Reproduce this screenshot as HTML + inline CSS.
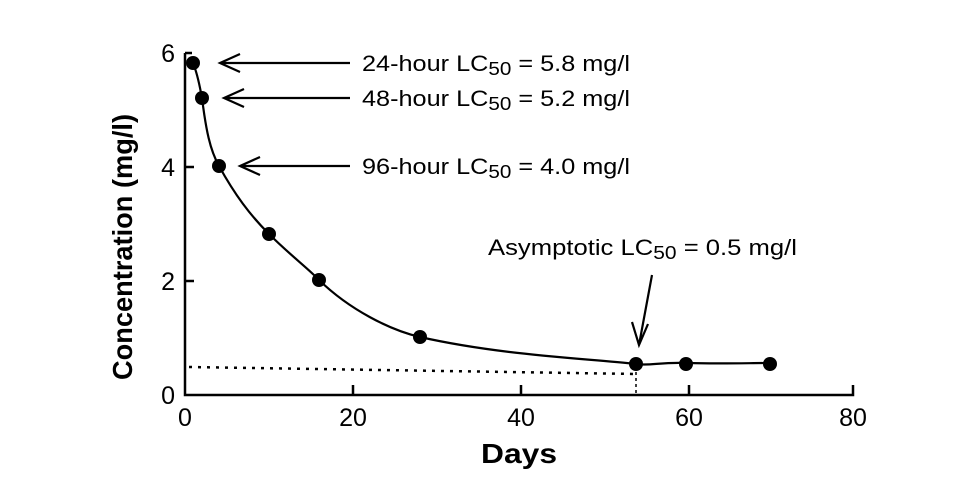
<!DOCTYPE html>
<html><head><style>body{margin:0;background:#fff}</style></head><body>
<svg width="960" height="478" xmlns="http://www.w3.org/2000/svg" font-family="Liberation Sans, sans-serif">
<rect width="960" height="478" fill="#fff"/>
<g stroke="#000" stroke-width="2.5" fill="none">
<path d="M185 53 V395 H853 V385"/>
<path d="M185 53 H192 M185 167 H194 M185 281 H194 M353 395 V385 M521 395 V385 M689 395 V385"/>
</g>
<g font-size="25" text-anchor="end"><text x="175" y="62">6</text><text x="175" y="176">4</text><text x="175" y="290">2</text><text x="175" y="404">0</text></g>
<g font-size="25" text-anchor="middle"><text x="185" y="426">0</text><text x="353" y="426">20</text><text x="521" y="426">40</text><text x="689" y="426">60</text><text x="853" y="426">80</text></g>
<text x="519" y="463" font-size="28" font-weight="bold" text-anchor="middle" textLength="76" lengthAdjust="spacingAndGlyphs">Days</text>
<text transform="translate(132,247) rotate(-90)" font-size="28" font-weight="bold" text-anchor="middle" textLength="266" lengthAdjust="spacingAndGlyphs">Concentration (mg/l)</text>
<path d="M193 63 C198 75 200 88 202 98 C206 130 210 150 219 166 C235 195 250 215 269 234 C290 255 310 270 319 280 C350 310 390 330 420 337 C500 355 580 358 636 364 C650 366 660 362 686 363 C720 364 750 363 770 363" stroke="#000" stroke-width="2.2" fill="none"/>
<g fill="#000"><circle cx="193" cy="63" r="7"/><circle cx="202" cy="98" r="7"/><circle cx="219" cy="166" r="7"/><circle cx="269" cy="234" r="7"/><circle cx="319" cy="280" r="7"/><circle cx="420" cy="337" r="7"/><circle cx="636" cy="364" r="7"/><circle cx="686" cy="364" r="7"/><circle cx="770" cy="364" r="7"/></g>
<path d="M189 367 L636 374" stroke="#000" stroke-width="2.5" stroke-dasharray="3,6" fill="none"/>
<path d="M636 372 V395" stroke="#000" stroke-width="1.5" stroke-dasharray="3,3" fill="none"/>
<g stroke="#000" stroke-width="2.2" fill="none">
<path d="M350 63 H220 M240 54 L220 63 L240 72"/>
<path d="M350 98 H224 M244 89 L224 98 L244 107"/>
<path d="M350 166 H240 M260 157 L240 166 L260 175"/>
<path d="M652 275 L639 345 M632 322 L639 345 L648 324"/>
</g>
<g font-size="22">
<text x="362" y="71" textLength="268" lengthAdjust="spacingAndGlyphs">24-hour LC<tspan font-size="18" dy="4">50</tspan><tspan dy="-4"> = 5.8 mg/l</tspan></text>
<text x="362" y="106" textLength="268" lengthAdjust="spacingAndGlyphs">48-hour LC<tspan font-size="18" dy="4">50</tspan><tspan dy="-4"> = 5.2 mg/l</tspan></text>
<text x="362" y="174" textLength="268" lengthAdjust="spacingAndGlyphs">96-hour LC<tspan font-size="18" dy="4">50</tspan><tspan dy="-4"> = 4.0 mg/l</tspan></text>
<text x="488" y="255" textLength="309" lengthAdjust="spacingAndGlyphs">Asymptotic LC<tspan font-size="18" dy="4">50</tspan><tspan dy="-4"> = 0.5 mg/l</tspan></text>
</g>
</svg>
</body></html>
